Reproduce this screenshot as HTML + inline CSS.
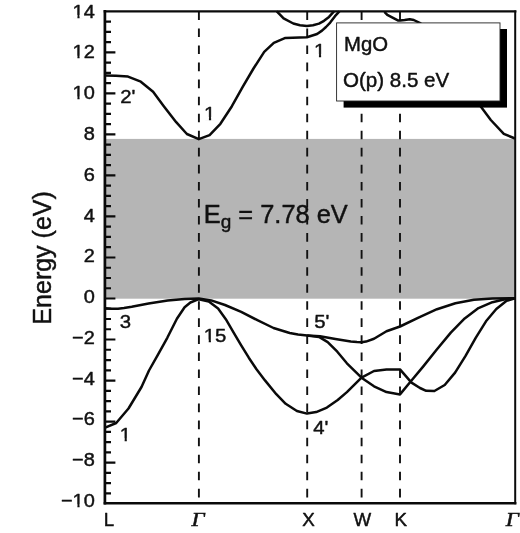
<!DOCTYPE html>
<html><head><meta charset="utf-8"><title>MgO band structure</title>
<style>html,body{margin:0;padding:0;background:#fff}body{width:520px;height:533px;overflow:hidden}</style></head>
<body>
<svg width="520" height="533" viewBox="0 0 520 533" style="display:block">
<rect width="520" height="533" fill="#fff"/>
<rect x="104.9" y="138.9" width="410.30000000000007" height="159.8" fill="#b5b5b5"/>
<line x1="198.9" y1="11.4" x2="198.9" y2="503.2" stroke="#111" stroke-width="1.9" stroke-dasharray="8.6 8.45"/>
<line x1="307.2" y1="11.4" x2="307.2" y2="503.2" stroke="#111" stroke-width="1.9" stroke-dasharray="8.6 8.45"/>
<line x1="361.6" y1="11.4" x2="361.6" y2="503.2" stroke="#111" stroke-width="1.9" stroke-dasharray="8.6 8.45"/>
<line x1="400.0" y1="11.4" x2="400.0" y2="503.2" stroke="#111" stroke-width="1.9" stroke-dasharray="8.6 8.45"/>
<polyline points="105.2,75.6 116.0,75.7 128.0,76.6 140.8,81.7 153.1,91.8 163.8,106.2 176.2,122.2 186.9,134.0 198.8,139.2 209.6,135.1 220.4,123.8 231.9,106.2 242.7,86.9 253.5,68.5 264.2,51.8 273.8,42.8 285.4,37.9 306.9,37.3 317.1,34.0 322.0,30.6 326.0,27.0 330.2,22.6 335.0,16.2 339.4,11.4" fill="none" stroke="#0a0a0a" stroke-width="2.5" stroke-linejoin="round"/>
<polyline points="276.8,11.3 283.6,18.4 293.3,23.5 300.0,25.2 306.9,25.9 313.0,25.3 319.0,23.6 324.0,20.8 329.0,16.9 334.0,11.4" fill="none" stroke="#0a0a0a" stroke-width="2.5" stroke-linejoin="round"/>
<polyline points="384.4,11.8 387.3,14.8 398.3,20.6 400.0,20.6 404.6,20.1 409.8,19.3 413.8,20.0 419.6,22.9 430.0,30.0" fill="none" stroke="#0a0a0a" stroke-width="2.5" stroke-linejoin="round"/>
<polyline points="470.0,92.0 481.5,107.4 490.8,120.0 503.8,133.8 515.0,138.5" fill="none" stroke="#0a0a0a" stroke-width="2.5" stroke-linejoin="round"/>
<polyline points="104.9,308.2 112.0,308.7 118.0,308.7 124.0,308.0 131.7,306.8 148.6,303.6 167.7,300.6 184.6,299.0 198.8,298.6 211.2,300.4 225.0,305.0 241.2,311.8 257.4,320.2 273.5,328.0 289.7,333.0 298.0,334.6 307.2,335.4 320.0,336.3 335.4,339.0 350.8,341.4 357.0,342.1 361.5,342.3 366.0,341.6 374.0,338.8 386.5,331.2 400.0,326.5 418.5,317.6 437.0,309.2 455.4,303.3 473.9,299.8 492.4,298.5 515.0,298.3" fill="none" stroke="#0a0a0a" stroke-width="2.5" stroke-linejoin="round"/>
<polyline points="105.2,427.7 116.2,423.0 128.5,408.5 141.5,387.0 149.0,370.5 157.7,355.2 167.3,337.8 176.9,318.8 184.6,307.3 190.4,302.5 198.8,299.2 208.8,301.5 218.1,308.5 225.8,319.2 233.5,332.3 241.2,345.4 248.8,357.7 256.5,369.2 265.0,380.4 276.3,394.2 285.7,403.8 296.9,411.0 307.0,413.6 316.2,412.1 326.9,407.6 337.7,400.0 346.9,392.1 361.5,377.7 374.0,371.0 386.5,369.4 400.0,369.4 411.5,382.6 420.0,388.0 426.2,390.8 434.4,391.0 444.7,385.0 455.1,372.6 465.4,356.2 475.7,337.8 486.0,321.3 496.3,309.0 506.6,300.8 515.0,298.4" fill="none" stroke="#0a0a0a" stroke-width="2.5" stroke-linejoin="round"/>
<polyline points="307.1,335.4 319.0,336.9 327.7,342.1 337.3,351.7 346.9,363.3 361.5,377.7 374.0,386.3 386.5,392.1 400.0,394.4 411.5,380.5 423.1,366.6 437.0,349.3 450.8,332.6 464.7,318.4 478.5,308.1 492.4,302.2 503.9,299.5 515.0,298.4" fill="none" stroke="#0a0a0a" stroke-width="2.5" stroke-linejoin="round"/>
<path d="M104.9 493.35h6.1 M104.9 483.09h6.1 M104.9 472.84h6.1 M104.9 462.58h10.5 M104.9 452.33h6.1 M104.9 442.07h6.1 M104.9 431.81h6.1 M104.9 421.56h10.5 M104.9 411.31h6.1 M104.9 401.05h6.1 M104.9 390.80h6.1 M104.9 380.54h10.5 M104.9 370.29h6.1 M104.9 360.03h6.1 M104.9 349.77h6.1 M104.9 339.52h10.5 M104.9 329.26h6.1 M104.9 319.01h6.1 M104.9 308.75h6.1 M104.9 298.50h10.5 M104.9 288.25h6.1 M104.9 277.99h6.1 M104.9 267.74h6.1 M104.9 257.48h10.5 M104.9 247.22h6.1 M104.9 236.97h6.1 M104.9 226.71h6.1 M104.9 216.46h10.5 M104.9 206.20h6.1 M104.9 195.95h6.1 M104.9 185.69h6.1 M104.9 175.44h10.5 M104.9 165.19h6.1 M104.9 154.93h6.1 M104.9 144.67h6.1 M104.9 134.42h10.5 M104.9 124.16h6.1 M104.9 113.91h6.1 M104.9 103.65h6.1 M104.9 93.40h10.5 M104.9 83.14h6.1 M104.9 72.89h6.1 M104.9 62.63h6.1 M104.9 52.38h10.5 M104.9 42.12h6.1 M104.9 31.87h6.1 M104.9 21.61h6.1" stroke="#0a0a0a" stroke-width="2.2" fill="none"/>
<g stroke="#0a0a0a" fill="none" stroke-linecap="square">
<line x1="104.9" y1="11.4" x2="104.9" y2="503.2" stroke-width="2.7"/>
<line x1="515.2" y1="11.4" x2="515.2" y2="503.2" stroke-width="2.0"/>
<line x1="104.9" y1="11.4" x2="515.2" y2="11.4" stroke-width="2.4"/>
<line x1="104.9" y1="503.2" x2="515.2" y2="503.2" stroke-width="2.4"/>
</g>
<rect x="343.6" y="29" width="163.4" height="78.6" fill="#000"/>
<rect x="336.6" y="22.9" width="163.4" height="78.1" fill="#fff" stroke="#222" stroke-width="0.9"/>
<g font-family="Liberation Sans, Arial, Helvetica, sans-serif" fill="#111" stroke="#111" stroke-width="0.45" stroke-linejoin="round">
<text transform="translate(344 50.7) scale(1.015 1)" font-size="20">MgO</text>
<text transform="translate(343 86.8) scale(1.027 1)" font-size="20">O(p) 8.5 eV</text>
<text transform="translate(94.8 507.0) scale(1.04 1)" font-size="19.2" text-anchor="end">−10</text>
<text transform="translate(94.8 466.2) scale(1.04 1)" font-size="19.2" text-anchor="end">−8</text>
<text transform="translate(94.8 425.4) scale(1.04 1)" font-size="19.2" text-anchor="end">−6</text>
<text transform="translate(94.8 384.6) scale(1.04 1)" font-size="19.2" text-anchor="end">−4</text>
<text transform="translate(94.8 343.8) scale(1.04 1)" font-size="19.2" text-anchor="end">−2</text>
<text transform="translate(94.8 303.1) scale(1.04 1)" font-size="19.2" text-anchor="end">0</text>
<text transform="translate(94.8 262.3) scale(1.04 1)" font-size="19.2" text-anchor="end">2</text>
<text transform="translate(94.8 221.5) scale(1.04 1)" font-size="19.2" text-anchor="end">4</text>
<text transform="translate(94.8 180.7) scale(1.04 1)" font-size="19.2" text-anchor="end">6</text>
<text transform="translate(94.8 139.9) scale(1.04 1)" font-size="19.2" text-anchor="end">8</text>
<text transform="translate(94.8 99.2) scale(1.04 1)" font-size="19.2" text-anchor="end">10</text>
<text transform="translate(94.8 58.4) scale(1.04 1)" font-size="19.2" text-anchor="end">12</text>
<text transform="translate(94.8 17.6) scale(1.04 1)" font-size="19.2" text-anchor="end">14</text>
<text transform="translate(120.3 102.5) scale(1.06 1)" font-size="19.2">2'</text>
<text transform="translate(204 119.6) scale(1.06 1)" font-size="19.2">1</text>
<text transform="translate(314 56.8) scale(1.06 1)" font-size="19.2">1</text>
<text transform="translate(119.8 328.3) scale(1.06 1)" font-size="19.2">3</text>
<text transform="translate(203.8 342.3) scale(1.06 1)" font-size="19.2">15</text>
<text transform="translate(314.2 327.8) scale(1.06 1)" font-size="19.2">5'</text>
<text transform="translate(313.2 433.6) scale(1.06 1)" font-size="19.2">4'</text>
<text transform="translate(119.7 441) scale(1.06 1)" font-size="19.2">1</text>
<text transform="translate(103.7 525.8) scale(1.04 1)" font-size="18">L</text>
<text transform="translate(302.3 525.8) scale(1.04 1)" font-size="18">X</text>
<text transform="translate(353.6 525.8) scale(1.04 1)" font-size="18">W</text>
<text transform="translate(394.6 525.8) scale(1.04 1)" font-size="18">K</text>
<text transform="translate(203.8 223.4) scale(1.0 1)" font-size="25.4">E<tspan font-size="19" dy="4.7">g</tspan><tspan dy="-4.7"> = 7.78 eV</tspan></text>
<text transform="translate(50.8 324.6) rotate(-90) scale(1.0 1)" font-size="25">Energy (eV)</text>
</g>
<rect x="73.11" y="504.37" width="4.30" height="3.93" fill="#fff"/>
<rect x="79.58" y="504.37" width="4.13" height="3.93" fill="#fff"/>
<rect x="73.11" y="96.57" width="4.30" height="3.93" fill="#fff"/>
<rect x="79.58" y="96.57" width="4.13" height="3.93" fill="#fff"/>
<rect x="73.11" y="55.77" width="4.30" height="3.93" fill="#fff"/>
<rect x="79.58" y="55.77" width="4.13" height="3.93" fill="#fff"/>
<rect x="73.11" y="14.97" width="4.30" height="3.93" fill="#fff"/>
<rect x="79.58" y="14.97" width="4.13" height="3.93" fill="#fff"/>
<rect x="204.55" y="116.97" width="4.37" height="3.93" fill="#fff"/>
<rect x="211.12" y="116.97" width="4.20" height="3.93" fill="#fff"/>
<rect x="314.55" y="54.17" width="4.37" height="3.93" fill="#fff"/>
<rect x="321.12" y="54.17" width="4.20" height="3.93" fill="#fff"/>
<rect x="204.35" y="339.67" width="4.37" height="3.93" fill="#fff"/>
<rect x="210.92" y="339.67" width="4.20" height="3.93" fill="#fff"/>
<rect x="120.25" y="438.37" width="4.37" height="3.93" fill="#fff"/>
<rect x="126.82" y="438.37" width="4.20" height="3.93" fill="#fff"/>
<g font-family="Liberation Serif, Times New Roman, serif" font-style="italic" font-size="19.6" fill="#111" stroke="#111" stroke-width="0.5">
<text transform="translate(191.6 526.2) scale(1.17 1)">Γ</text>
<text transform="translate(505.8 526.4) scale(1.17 1)">Γ</text>
</g>
</svg>
</body></html>
